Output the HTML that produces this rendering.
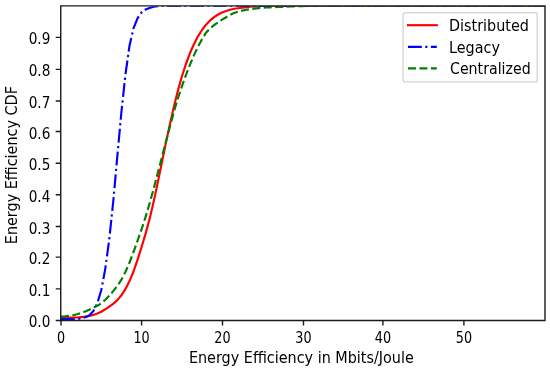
<!DOCTYPE html>
<html><head><meta charset="utf-8"><title>Energy Efficiency CDF</title>
<style>html,body{margin:0;padding:0;background:#fff;width:550px;height:371px;overflow:hidden}svg{display:block;filter:blur(0.35px)}text{font-family:"DejaVu Sans","Liberation Sans",sans-serif}</style>
</head><body>
<svg width="550" height="371" viewBox="0 0 550 371">
<rect width="550" height="371" fill="#fff"/>
<defs><clipPath id="c"><rect x="61.0" y="6.2" width="483.90" height="314.25"/></clipPath></defs>
<g clip-path="url(#c)" fill="none" stroke-width="2.160" stroke-linejoin="round">
<polyline points="61.0,317.9 65.0,317.8 69.1,317.7 73.1,317.7 77.1,317.5 81.1,317.1 85.2,316.6 89.2,316.0 93.2,314.9 97.3,313.5 101.3,311.7 105.3,309.3 109.3,306.6 113.4,303.6 117.4,300.1 121.4,295.3 125.5,288.9 129.5,281.1 133.5,271.5 137.5,259.9 141.6,247.0 145.6,233.6 149.6,218.9 153.7,201.6 157.7,182.8 161.7,163.3 165.7,143.9 169.8,124.8 173.8,106.9 177.8,90.9 181.9,76.5 185.9,64.0 189.9,53.3 193.9,44.2 198.0,36.3 202.0,30.0 206.0,24.7 210.1,20.4 214.1,17.1 218.1,14.5 222.1,12.5 226.2,11.0 230.2,9.7 234.2,8.8 238.3,8.2 242.3,7.7 246.3,7.1 250.4,6.7 254.4,6.4 258.4,6.2 262.4,6.0 266.5,6.0 270.5,6.0 274.5,5.9 278.6,5.9 282.6,5.9 286.6,5.9 290.6,5.9 294.7,5.9 298.7,5.9 302.7,5.9 306.8,5.9 310.8,5.9 314.8,5.9 318.8,5.9 322.9,5.9 326.9,5.9 330.9,5.9 335.0,5.9 339.0,5.9 343.0,5.9 347.0,5.9 351.1,5.9 355.1,5.9 359.1,5.9 363.2,5.9 367.2,5.9 371.2,5.9 375.2,5.9 379.3,5.9 383.3,5.9 387.3,5.9 391.4,5.9 395.4,5.9 399.4,5.9 403.4,5.9 407.5,5.9 411.5,5.9 415.5,5.9 419.6,5.9 423.6,5.9 427.6,5.9 431.6,5.9 435.7,5.9 439.7,5.9 443.7,5.9 447.8,5.9 451.8,5.9 455.8,5.9 459.8,5.9 463.9,5.9 467.9,5.9 471.9,5.9 476.0,5.9 480.0,5.9 484.0,5.9 488.0,5.9 492.1,5.9 496.1,5.9 500.1,5.9 504.2,5.9 508.2,5.9 512.2,5.9 516.2,5.9 520.3,5.9 524.3,5.9 528.3,5.9 532.4,5.9 536.4,5.9 540.4,5.9 544.4,5.9" stroke="#ff0000" stroke-linecap="square"/>
<polyline points="61.0,319.2 65.0,319.2 69.1,319.2 73.1,319.3 77.1,319.2 81.1,318.4 85.2,317.2 89.2,315.6 93.2,311.3 97.3,303.3 101.3,290.0 105.3,268.6 109.3,239.1 113.4,200.0 117.4,155.4 121.4,112.0 125.5,74.2 129.5,45.7 133.5,28.3 137.5,18.3 141.6,12.3 145.6,9.5 149.6,7.9 153.7,6.8 157.7,6.2 161.7,6.0 165.7,6.0 169.8,5.9 173.8,5.9 177.8,5.9 181.9,5.9 185.9,5.9 189.9,5.9 193.9,5.9 198.0,5.9 202.0,5.9 206.0,5.9 210.1,5.9 214.1,5.9 218.1,5.9 222.1,5.9 226.2,5.9 230.2,5.9 234.2,5.9 238.3,5.9 242.3,5.9 246.3,5.9 250.4,5.9 254.4,5.9 258.4,5.9 262.4,5.9 266.5,5.9 270.5,5.9 274.5,5.9 278.6,5.9 282.6,5.9 286.6,5.9 290.6,5.9 294.7,5.9 298.7,5.9 302.7,5.9 306.8,5.9 310.8,5.9 314.8,5.9 318.8,5.9 322.9,5.9 326.9,5.9 330.9,5.9 335.0,5.9 339.0,5.9 343.0,5.9 347.0,5.9 351.1,5.9 355.1,5.9 359.1,5.9 363.2,5.9 367.2,5.9 371.2,5.9 375.2,5.9 379.3,5.9 383.3,5.9 387.3,5.9 391.4,5.9 395.4,5.9 399.4,5.9 403.4,5.9 407.5,5.9 411.5,5.9 415.5,5.9 419.6,5.9 423.6,5.9 427.6,5.9 431.6,5.9 435.7,5.9 439.7,5.9 443.7,5.9 447.8,5.9 451.8,5.9 455.8,5.9 459.8,5.9 463.9,5.9 467.9,5.9 471.9,5.9 476.0,5.9 480.0,5.9 484.0,5.9 488.0,5.9 492.1,5.9 496.1,5.9 500.1,5.9 504.2,5.9 508.2,5.9 512.2,5.9 516.2,5.9 520.3,5.9 524.3,5.9 528.3,5.9 532.4,5.9 536.4,5.9 540.4,5.9 544.4,5.9" stroke="#0000ff" stroke-dasharray="13.824,3.456,2.160,3.456"/>
<polyline points="61.0,316.5 65.0,316.3 69.1,315.9 73.1,315.2 77.1,314.2 81.1,312.9 85.2,311.4 89.2,309.7 93.2,307.8 97.3,305.8 101.3,303.2 105.3,299.8 109.3,295.7 113.4,290.9 117.4,285.9 121.4,279.7 125.5,271.8 129.5,262.5 133.5,252.0 137.5,240.9 141.6,229.2 145.6,216.9 149.6,203.5 153.7,188.6 157.7,173.3 161.7,158.0 165.7,142.4 169.8,127.0 173.8,112.1 177.8,98.7 181.9,86.4 185.9,75.1 189.9,64.9 193.9,55.4 198.0,46.7 202.0,39.2 206.0,32.8 210.1,28.3 214.1,25.1 218.1,22.3 222.1,19.6 226.2,17.2 230.2,14.9 234.2,12.9 238.3,11.5 242.3,10.6 246.3,9.8 250.4,9.1 254.4,8.6 258.4,8.1 262.4,7.8 266.5,7.5 270.5,7.3 274.5,7.1 278.6,7.0 282.6,6.8 286.6,6.6 290.6,6.5 294.7,6.4 298.7,6.2 302.7,6.1 306.8,6.0 310.8,5.9 314.8,5.9 318.8,5.9 322.9,5.9 326.9,5.9 330.9,5.9 335.0,5.9 339.0,5.9 343.0,5.9 347.0,5.9 351.1,5.9 355.1,5.9 359.1,5.9 363.2,5.9 367.2,5.9 371.2,5.9 375.2,5.9 379.3,5.9 383.3,5.9 387.3,5.9 391.4,5.9 395.4,5.9 399.4,5.9 403.4,5.9 407.5,5.9 411.5,5.9 415.5,5.9 419.6,5.9 423.6,5.9 427.6,5.9 431.6,5.9 435.7,5.9 439.7,5.9 443.7,5.9 447.8,5.9 451.8,5.9 455.8,5.9 459.8,5.9 463.9,5.9 467.9,5.9 471.9,5.9 476.0,5.9 480.0,5.9 484.0,5.9 488.0,5.9 492.1,5.9 496.1,5.9 500.1,5.9 504.2,5.9 508.2,5.9 512.2,5.9 516.2,5.9 520.3,5.9 524.3,5.9 528.3,5.9 532.4,5.9 536.4,5.9 540.4,5.9 544.4,5.9" stroke="#008000" stroke-dasharray="7.992,3.456"/>
</g>
<path d="M60.75,320.45V5.90M545.00,320.45V5.90M60.05,320.45H545.70M60.05,5.90H545.70" stroke="#1a1a1a" stroke-width="1.400" fill="none"/>
<path d="M61.00,320.45v5.04M141.60,320.45v5.04M222.50,320.45v5.04M303.50,320.45v5.04M382.90,320.45v5.04M463.90,320.45v5.04M60.75,320.45h-5.04M60.75,288.85h-5.04M60.75,257.12h-5.04M60.75,226.53h-5.04M60.75,194.80h-5.04M60.75,163.26h-5.04M60.75,131.53h-5.04M60.75,101.06h-5.04M60.75,69.33h-5.04M60.75,37.39h-5.04" stroke="#1a1a1a" stroke-width="1.400" fill="none"/>
<g font-family="DejaVu Sans" font-size="15.5" fill="#000">
<text transform="translate(61.00,342.60) scale(0.826,1)" text-anchor="middle">0</text>
<text transform="translate(141.60,342.60) scale(0.826,1)" text-anchor="middle">10</text>
<text transform="translate(222.50,342.60) scale(0.826,1)" text-anchor="middle">20</text>
<text transform="translate(303.50,342.60) scale(0.826,1)" text-anchor="middle">30</text>
<text transform="translate(382.90,342.60) scale(0.826,1)" text-anchor="middle">40</text>
<text transform="translate(463.90,342.60) scale(0.826,1)" text-anchor="middle">50</text>
<text transform="translate(50.30,327.45) scale(0.88,1)" text-anchor="end">0.0</text>
<text transform="translate(50.30,295.85) scale(0.88,1)" text-anchor="end">0.1</text>
<text transform="translate(50.30,264.12) scale(0.88,1)" text-anchor="end">0.2</text>
<text transform="translate(50.30,233.53) scale(0.88,1)" text-anchor="end">0.3</text>
<text transform="translate(50.30,201.80) scale(0.88,1)" text-anchor="end">0.4</text>
<text transform="translate(50.30,170.26) scale(0.88,1)" text-anchor="end">0.5</text>
<text transform="translate(50.30,138.53) scale(0.88,1)" text-anchor="end">0.6</text>
<text transform="translate(50.30,108.06) scale(0.88,1)" text-anchor="end">0.7</text>
<text transform="translate(50.30,76.33) scale(0.88,1)" text-anchor="end">0.8</text>
<text transform="translate(50.30,44.39) scale(0.88,1)" text-anchor="end">0.9</text>
<text transform="translate(188.90,363.40) scale(0.929,1)">Energy Efficiency in Mbits/Joule</text>
<text transform="translate(16.60,244.20) rotate(-90) scale(0.929,1)">Energy Efficiency CDF</text>
</g>
<rect x="403.1" y="12.7" width="134.20" height="69.20" rx="2.2" ry="2.2" fill="#fff" fill-opacity="0.8" stroke="#cccccc" stroke-opacity="0.8" stroke-width="1.44"/>
<path d="M408.0,25.2H436.8" stroke="#ff0000" stroke-width="2.160" stroke-linecap="square"/>
<path d="M408.0,46.9H436.8" stroke="#0000ff" stroke-width="2.160" stroke-dasharray="13.824,3.456,2.160,3.456"/>
<path d="M408.0,68.4H436.8" stroke="#008000" stroke-width="2.160" stroke-dasharray="7.992,3.456"/>
<g font-family="DejaVu Sans" font-size="15.5" fill="#000">
<text transform="translate(449.00,30.70) scale(0.929,1)">Distributed</text>
<text transform="translate(449.00,53.00) scale(0.929,1)">Legacy</text>
<text transform="translate(450.00,74.10) scale(0.915,1)">Centralized</text>
</g>
</svg>
</body></html>
